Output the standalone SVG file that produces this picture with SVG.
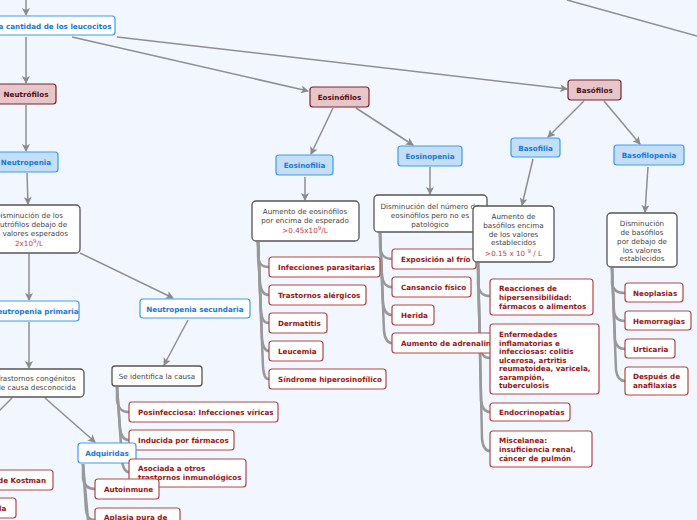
<svg xmlns="http://www.w3.org/2000/svg" width="697" height="520" viewBox="0 0 697 520">
<defs>
<marker id="ar" markerWidth="8" markerHeight="8" refX="7" refY="4" orient="auto" markerUnits="userSpaceOnUse"><path d="M0,0 L8,4 L0,8 L2,4 Z" fill="#8a8a8a"/></marker>
<style>
text{font-family:"DejaVu Sans",Verdana,sans-serif;font-size:7.2px;font-weight:bold}
.c{fill:none;stroke:#8f8f8f;stroke-width:1.5}
.t{fill:none;stroke:#999;stroke-width:2.5}
.blue rect{fill:#fff;stroke:#3d9cf2;stroke-width:1.2}
.blue text{fill:#1a78dd}
.lb rect{fill:#c3def5;stroke:#3d9cf2;stroke-width:1.2}
.lb text{fill:#1a78dd}
.main rect{fill:#e7c6c9;stroke:#7a2430;stroke-width:1.2}
.main text{fill:#52101a}
.desc rect{fill:#fff;stroke:#555;stroke-width:1.3}
.desc text{fill:#444;font-weight:normal}
.desc text.r{fill:#c04040}
.item rect{fill:#fff;stroke:#b04848;stroke-width:1.2}
.item text{fill:#9a1515}
</style>
</defs>
<rect width="697" height="520" fill="#f2f6fe"/>
<g id="connectors">
<path class="c" d="M26,0 L26,15" marker-end="url(#ar)"/>
<path class="c" d="M567,0 L697,36"/>
<path class="c" d="M26,37 L26,83" marker-end="url(#ar)"/>
<path class="c" d="M72,37 L308,91" marker-end="url(#ar)"/>
<path class="c" d="M117,37 L567,89" marker-end="url(#ar)"/>
<path class="c" d="M26,105 L26,151" marker-end="url(#ar)"/>
<path class="c" d="M27,173 L28,204" marker-end="url(#ar)"/>
<path class="c" d="M29,254 L29,300" marker-end="url(#ar)"/>
<path class="c" d="M80,253 L173,298" marker-end="url(#ar)"/>
<path class="c" d="M29,322 L29,368" marker-end="url(#ar)"/>
<path class="c" d="M188,320 L164,365" marker-end="url(#ar)"/>
<path class="c" d="M12,398 L-5,415"/>
<path class="c" d="M45,398 L95,442" marker-end="url(#ar)"/>
<path class="c" d="M333,108 L311,154" marker-end="url(#ar)"/>
<path class="c" d="M356,108 L413,145" marker-end="url(#ar)"/>
<path class="c" d="M305,177 L305,200" marker-end="url(#ar)"/>
<path class="c" d="M430,167 L430,194" marker-end="url(#ar)"/>
<path class="c" d="M584,101 L548,137" marker-end="url(#ar)"/>
<path class="c" d="M604,101 L640,144" marker-end="url(#ar)"/>
<path class="c" d="M533,159 L522,205" marker-end="url(#ar)"/>
<path class="c" d="M648,167 L645,212" marker-end="url(#ar)"/>
<g class="t">
<path d="M258,242 L258,255 C258,264 262,267 269,267"/>
<path d="M258,242 L260,283 C261,292 264,295 269,295"/>
<path d="M258,242 L261,311 C262,320 264,323 269,323"/>
<path d="M258,242 L262,339 C263,348 265,351 269,351"/>
<path d="M258,242 L263,367 C264,376 265,379 269,379"/>
<path d="M380,233 L380,247 C381,256 385,259 392,259"/>
<path d="M380,233 L382,275 C383,284 386,287 392,287"/>
<path d="M380,233 L383,303 C384,312 387,315 392,315"/>
<path d="M380,233 L384,331 C385,340 388,343 392,343"/>
<path d="M478,263 L478,284 C479,293 483,296 490,296"/>
<path d="M478,263 L480,345 C481,355 484,358 490,358"/>
<path d="M478,263 L481,400 C482,409 485,412 490,412"/>
<path d="M478,263 L482,439 C483,448 486,451 490,451"/>
<path d="M612,268 L612,284 C613,290 617,293 625,293"/>
<path d="M612,268 L614,312 C615,318 619,321 625,321"/>
<path d="M612,268 L615,340 C616,346 619,349 625,349"/>
<path d="M612,268 L616,370 C617,377 620,381 625,381"/>
<path d="M117,387 L117,400 C118,409 122,412 129,412"/>
<path d="M117,387 L120,428 C121,437 124,440 129,440"/>
<path d="M117,387 L122,460 C123,469 125,472 129,472"/>
<path d="M83,464 L83,478 C84,486 88,489 95,489"/>
<path d="M83,464 L86,510 C87,518 90,520 95,520"/>
<path d="M83,464 L88,520"/>
</g>
</g>
<g id="n-leucocitos" class="blue"><rect x="-5" y="16" width="120" height="19" rx="3"/><text x="55" y="28.5" text-anchor="middle">a cantidad de los leucocitos</text></g>
<g id="n-neutrofilos" class="main"><rect x="-5" y="84" width="61" height="20" rx="3"/><text x="26" y="97" text-anchor="middle">Neutrófilos</text></g>
<g id="n-neutropenia" class="lb"><rect x="-5" y="152" width="63" height="20" rx="3"/><text x="26" y="165" text-anchor="middle">Neutropenia</text></g>
<g id="n-dism-neut" class="desc"><rect x="-5" y="205" width="85" height="48" rx="4"/><text text-anchor="middle"><tspan x="29" y="218">Disminución de los</tspan><tspan x="29" y="227">neutrófilos debajo de</tspan><tspan x="29" y="236">los valores esperados</tspan><tspan class="r" x="29" y="246" fill="#c04040">2x10<tspan dy="-3" font-size="5.5">9</tspan><tspan dy="3">/L</tspan></tspan></text></g>
<g id="n-primaria" class="blue"><rect x="-5" y="301" width="84" height="20" rx="3"/><text x="35" y="314" text-anchor="middle">Neutropenia primaria</text></g>
<g id="n-congenitos" class="desc"><rect x="-5" y="369" width="89" height="28" rx="4"/><text text-anchor="middle"><tspan x="36" y="381">Trastornos congénitos</tspan><tspan x="36" y="390">de causa desconocida</tspan></text></g>
<g id="n-secundaria" class="blue"><rect x="140" y="299" width="110" height="19" rx="3"/><text x="195" y="312" text-anchor="middle">Neutropenia secundaria</text></g>
<g id="n-causa" class="desc"><rect x="112" y="366" width="90" height="20" rx="3"/><text x="157" y="379" text-anchor="middle">Se identifica la causa</text></g>
<g id="n-posinf" class="item"><rect x="129" y="402" width="149" height="20" rx="3"/><text x="138" y="415">Posinfecciosa: Infecciones víricas</text></g>
<g id="n-farmacos" class="item"><rect x="129" y="430" width="105" height="20" rx="3"/><text x="138" y="443">Inducida por fármacos</text></g>
<g id="n-adquiridas" class="blue"><rect x="78" y="443" width="58" height="20" rx="3"/><text x="107" y="456" text-anchor="middle">Adquiridas</text></g>
<g id="n-asociada" class="item"><rect x="129" y="459" width="117" height="28" rx="3"/><text><tspan x="138" y="471">Asociada a otros</tspan><tspan x="138" y="480">trastornos inmunológicos</tspan></text></g>
<g id="n-autoinmune" class="item"><rect x="95" y="479" width="64" height="20" rx="3"/><text x="104" y="492">Autoinmune</text></g>
<g id="n-aplasia" class="item"><rect x="95" y="508" width="85" height="22" rx="3"/><text x="104" y="520">Aplasia  pura  de</text></g>
<g id="n-kostman" class="item"><rect x="-5" y="470" width="58" height="20" rx="3"/><text x="-2" y="483">de Kostman</text></g>
<g id="n-la" class="item"><rect x="-5" y="498" width="21" height="20" rx="3"/><text x="-1" y="511">la</text></g>
<g id="n-eosinofilos" class="main"><rect x="310" y="87" width="59" height="20" rx="3"/><text x="339.5" y="100" text-anchor="middle">Eosinófilos</text></g>
<g id="n-eosinofilia" class="lb"><rect x="276" y="155" width="57" height="20" rx="3"/><text x="304.5" y="168" text-anchor="middle">Eosinofilia</text></g>
<g id="n-aum-eos" class="desc"><rect x="252" y="201" width="107" height="40" rx="4"/><text text-anchor="middle"><tspan x="305" y="214">Aumento de eosinófilos</tspan><tspan x="305" y="223">por encima de esperado</tspan><tspan x="305" y="233" fill="#c04040">&gt;0.45x10<tspan dy="-3" font-size="5.5">9</tspan><tspan dy="3">/L</tspan></tspan></text></g>
<g id="n-parasit" class="item"><rect x="269" y="257" width="111" height="20" rx="3"/><text x="278" y="270">Infecciones parasitarias</text></g>
<g id="n-alerg" class="item"><rect x="269" y="285" width="97" height="20" rx="3"/><text x="278" y="298">Trastornos alérgicos</text></g>
<g id="n-dermat" class="item"><rect x="269" y="313" width="58" height="20" rx="3"/><text x="278" y="326">Dermatitis</text></g>
<g id="n-leucemia" class="item"><rect x="269" y="341" width="54" height="20" rx="3"/><text x="278" y="354">Leucemia</text></g>
<g id="n-hipereos" class="item"><rect x="269" y="369" width="117" height="20" rx="3"/><text x="278" y="382">Síndrome hiperosinofílico</text></g>
<g id="n-eosinopenia" class="lb"><rect x="398" y="146" width="64" height="20" rx="3"/><text x="430" y="159" text-anchor="middle">Eosinopenia</text></g>
<g id="n-dism-eos" class="desc"><rect x="374" y="195" width="113" height="37" rx="4"/><text text-anchor="middle"><tspan x="430" y="209">Disminución del número de</tspan><tspan x="430" y="218">eosinófilos pero no es</tspan><tspan x="430" y="227">patológico</tspan></text></g>
<g id="n-frio" class="item"><rect x="392" y="249" width="84" height="20" rx="3"/><text x="401" y="262">Exposición al frío</text></g>
<g id="n-cansancio" class="item"><rect x="392" y="277" width="79" height="20" rx="3"/><text x="401" y="290">Cansancio físico</text></g>
<g id="n-herida" class="item"><rect x="392" y="305" width="42" height="20" rx="3"/><text x="401" y="318">Herida</text></g>
<g id="n-adrenalina" class="item"><rect x="392" y="333" width="103" height="20" rx="3"/><text x="401" y="346">Aumento de adrenalina</text></g>
<g id="n-basofilos" class="main"><rect x="568" y="80" width="53" height="20" rx="3"/><text x="594.5" y="93" text-anchor="middle">Basófilos</text></g>
<g id="n-basofilia" class="lb"><rect x="511" y="138" width="49" height="19" rx="3"/><text x="535.5" y="150.5" text-anchor="middle">Basofilia</text></g>
<g id="n-aum-bas" class="desc"><rect x="473" y="206" width="81" height="56" rx="4"/><text text-anchor="middle"><tspan x="513.5" y="219">Aumento de</tspan><tspan x="513.5" y="228">basófilos encima</tspan><tspan x="513.5" y="237">de los valores</tspan><tspan x="513.5" y="245">establecidos</tspan><tspan x="513.5" y="256" fill="#c04040">&gt;0.15 x 10 <tspan dy="-3" font-size="5.5">9</tspan><tspan dy="3"> / L</tspan></tspan></text></g>
<g id="n-reacciones" class="item"><rect x="490" y="279" width="103" height="36" rx="3"/><text><tspan x="499" y="291">Reacciones de</tspan><tspan x="499" y="300">hipersensibilidad:</tspan><tspan x="499" y="309">fármacos o alimentos</tspan></text></g>
<g id="n-enfermedades" class="item"><rect x="490" y="324" width="109" height="70" rx="3"/><text><tspan x="499" y="337">Enfermedades</tspan><tspan x="499" y="345.5">inflamatorias e</tspan><tspan x="499" y="354">infecciosas: colitis</tspan><tspan x="499" y="362.5">ulcerosa, artritis</tspan><tspan x="499" y="371">reumatoidea, varicela,</tspan><tspan x="499" y="379.5">sarampión,</tspan><tspan x="499" y="388">tuberculosis</tspan></text></g>
<g id="n-endocrino" class="item"><rect x="490" y="403" width="80" height="18" rx="3"/><text x="499" y="415">Endocrinopatías</text></g>
<g id="n-miscelanea" class="item"><rect x="490" y="431" width="102" height="36" rx="3"/><text><tspan x="499" y="443">Miscelanea:</tspan><tspan x="499" y="452">insuficiencia renal,</tspan><tspan x="499" y="461">cáncer de pulmón</tspan></text></g>
<g id="n-basofilopenia" class="lb"><rect x="614" y="145" width="70" height="20" rx="3"/><text x="649" y="158" text-anchor="middle">Basofilopenia</text></g>
<g id="n-dism-bas" class="desc"><rect x="607" y="213" width="70" height="54" rx="4"/><text text-anchor="middle"><tspan x="642" y="226">Disminución</tspan><tspan x="642" y="235">de basófilos</tspan><tspan x="642" y="244">por debajo de</tspan><tspan x="642" y="253">los valores</tspan><tspan x="642" y="261">establecidos</tspan></text></g>
<g id="n-neoplasias" class="item"><rect x="625" y="283" width="58" height="19" rx="3"/><text x="633" y="295.5">Neoplasias</text></g>
<g id="n-hemorragias" class="item"><rect x="625" y="311" width="66" height="19" rx="3"/><text x="633" y="323.5">Hemorragias</text></g>
<g id="n-urticaria" class="item"><rect x="625" y="339" width="50" height="19" rx="3"/><text x="633" y="351.5">Urticaria</text></g>
<g id="n-anafilaxias" class="item"><rect x="625" y="367" width="63" height="28" rx="3"/><text><tspan x="633" y="379">Después de</tspan><tspan x="633" y="388">anafilaxias</tspan></text></g>
</svg>
